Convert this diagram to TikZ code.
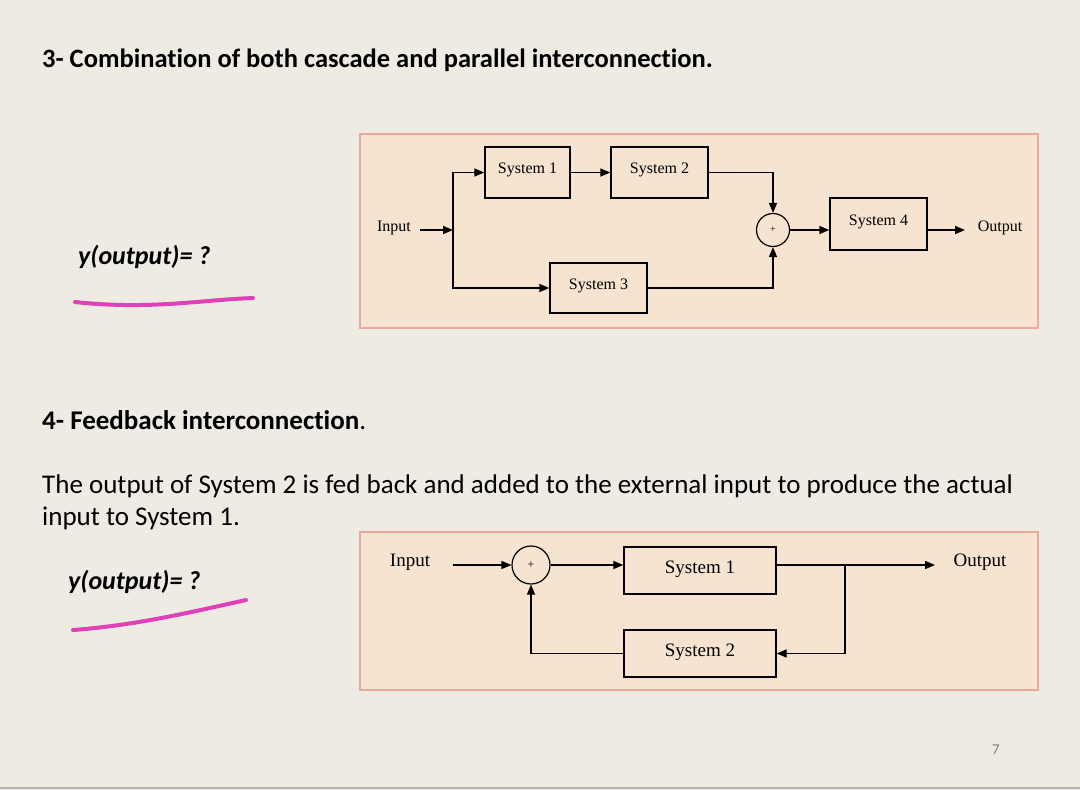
\documentclass[tikz,border=0pt]{standalone}
\usepackage{fontspec}
\setmainfont{Carlito}[Ligatures={NoCommon}]
\newfontfamily\tms{Liberation Serif}
\usetikzlibrary{arrows.meta}
\definecolor{bg}{HTML}{EEEBE2}
\definecolor{panel}{HTML}{F6E3D0}
\definecolor{pbord}{HTML}{E9A9A0}
\definecolor{pink}{HTML}{E040B8}
\begin{document}
\begin{tikzpicture}[x=1pt,y=-1pt,
  blk/.style={draw,line width=1.4pt,inner sep=0,font=\tms\fontsize{16}{16}\selectfont},
  blkb/.style={draw,line width=1.4pt,inner sep=0,font=\tms\fontsize{19}{19}\selectfont},
  lab/.style={font=\tms\fontsize{16}{16}\selectfont},
  labb/.style={font=\tms\fontsize{19}{19}\selectfont},
  sum/.style={draw,circle,line width=1.2pt,inner sep=0},
  ar/.style={line width=1.4pt,-{Triangle[length=10pt,width=8pt]}},
  pan/.style={fill=panel,draw=pbord,line width=2.5pt},
  txt/.style={anchor=west,inner sep=0,font=\fontsize{27}{27}\selectfont}]
\fill[bg] (0,0) rectangle (1080,790);
\useasboundingbox (0,0) rectangle (1080,790);
\draw[gray!60,line width=2pt] (0,788) -- (1080,788);
\node[txt,font=\bfseries\fontsize{26.5}{27}\selectfont] (t1) at (42,60) {3- Combination of both cascade and parallel interconnection.};
\node[txt,font=\bfseries\itshape\fontsize{26}{27}\selectfont] (y1) at (78,257) {y(output)= ?};
\draw[pink,line width=4pt,line cap=round] (75,302) .. controls (150,310) and (200,300) .. (253,298);
\node[txt] (t2) at (42,420) {\textbf{4- Feedback interconnection}.};
\node[txt] (p1) at (42,486) {The output of System 2 is fed back and added to the external input to produce the actual};
\node[txt] (p2) at (42,518) {input to System 1.};
\node[txt,font=\bfseries\itshape\fontsize{26}{27}\selectfont] (y2) at (68,582) {y(output)= ?};
\draw[pink,line width=4pt,line cap=round] (73,630) .. controls (140,625) and (200,610) .. (246,600);
\node[font=\fontsize{15}{15}\selectfont,text=gray] (pg) at (996,750) {7};
% panel 1
\draw[pan] (360,134) rectangle (1038,328);
\node[blk,minimum width=85,minimum height=51,text depth=8pt] (s1) at (527.5,172.5) {System 1};
\node[blk,minimum width=97,minimum height=51,text depth=8pt] (s2) at (659.5,172.5) {System 2};
\node[blk,minimum width=97,minimum height=50,text depth=8pt] (s3) at (598.5,288) {System 3};
\node[blk,minimum width=97,minimum height=52,text depth=8pt] (s4) at (878.5,224) {System 4};
\node[sum,minimum size=33] (c1) at (773,230) {\tms\fontsize{10}{10}\selectfont +};
\node[lab] (in1) at (394,228) {Input};
\node[lab] (out1) at (1000,228) {Output};
\coordinate (j1) at (453,230);
\draw[ar] (420,230) -- (j1);
\draw[ar] (j1) |- (s1.west);
\draw[ar] (j1) |- (s3.west);
\draw[ar] (s1.east) -- (s2.west);
\draw[ar] (s2.east) -| (c1.north);
\draw[ar] (s3.east) -| (c1.south);
\draw[ar] (c1.east) -- (s4.west |- c1.east);
\draw[ar] (s4.east |- c1.east) -- (965,230);
% panel 2
\draw[pan] (360,532) rectangle (1038,690);
\node[labb] (in2) at (410,562) {Input};
\node[labb] (out2) at (980,562) {Output};
\node[sum,minimum size=38] (c2) at (531,565) {\tms\fontsize{12}{12}\selectfont +};
\node[blkb,minimum width=152,minimum height=47,text depth=6pt] (b1) at (700,570.5) {System 1};
\node[blkb,minimum width=152,minimum height=47,text depth=6pt] (b2) at (700,653.5) {System 2};
\coordinate (j2) at (845,565);
\draw[ar] (453,565) -- (c2.west);
\draw[ar] (c2.east) -- (b1.west |- c2.east);
\draw[ar] (b1.east |- c2.east) -- (935,565);
\draw[ar] (j2) |- (b2.east);
\draw[ar] (b2.west) -| (c2.south);
\end{tikzpicture}
\end{document}
